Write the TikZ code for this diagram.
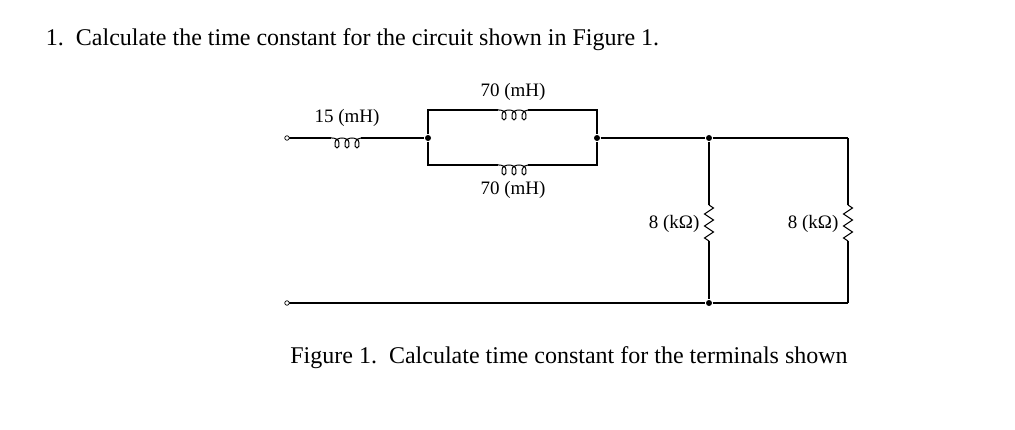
\documentclass[tikz,border=0pt]{standalone}
\usepackage{fontspec}
\setmainfont{Liberation Serif}
\usetikzlibrary{decorations.pathmorphing}
\begin{document}
\begin{tikzpicture}[x=1pt,y=-1pt,line width=1.2pt,
  res/.style={decorate,decoration={zigzag,segment length=12pt,amplitude=4.5pt,pre length=0pt,post length=0pt},line width=1pt},
  dot/.style={circle,fill,inner sep=0pt,minimum size=6pt},
  term/.style={circle,draw,fill=white,inner sep=0pt,minimum size=4.5pt,line width=0.7pt},
  lbl/.style={font=\fontsize{19}{22}\selectfont,inner sep=1pt},
  coilpath/.style={line width=1pt},
  pics/coil3/.style={code={
    \draw[coilpath] (-15,0) -- (-14,0)
      to[out=0,in=90] (-7,5) to[out=-90,in=0] (-9,10) to[out=180,in=-90] (-11,5) to[out=90,in=180] (-4,0)
      to[out=0,in=90] (3,5) to[out=-90,in=0] (1,10) to[out=180,in=-90] (-1,5) to[out=90,in=180] (6,0)
      to[out=0,in=90] (13,5) to[out=-90,in=0] (11,10) to[out=180,in=-90] (9,5) to[out=90,in=180] (15,0);
  }}]
\useasboundingbox (0,0) rectangle (1015,430);
\node[anchor=west,font=\fontsize{24}{28}\selectfont] (title) at (42,40) {1.\enspace Calculate the time constant for the circuit shown in Figure 1.};
\coordinate (a) at (287,138);
\node[dot] (n1) at (428,138) {};
\node[dot] (n2) at (597,138) {};
\node[dot] (n3) at (709,138) {};
\coordinate (c4) at (848,138);
\coordinate (b) at (287,303);
\node[dot] (n5) at (709,303) {};
\coordinate (c6) at (848,303);
\coordinate (i1a) at (331,138); \coordinate (i1b) at (361,138);
\coordinate (t1) at (428,110); \coordinate (t2) at (597,110);
\coordinate (b1) at (428,165); \coordinate (b2) at (597,165);
\coordinate (i2a) at (498,110); \coordinate (i2b) at (528,110);
\coordinate (i3a) at (498,165); \coordinate (i3b) at (528,165);
\coordinate (r1a) at (709,205); \coordinate (r1b) at (709,241);
\coordinate (r2a) at (848,205); \coordinate (r2b) at (848,241);
\pic at (346,138) {coil3}; \pic at (513,110) {coil3}; \pic at (513,165) {coil3};
\draw (a) -- (i1a); \draw (i1b) -- (n1);
\draw (n1) -- (t1) -- (i2a); \draw (i2b) -- (t2) -- (n2);
\draw (n1) -- (b1) -- (i3a); \draw (i3b) -- (b2) -- (n2);
\draw (n2) -- (n3) -- (c4);
\draw (n3) -- (r1a); \draw[res] (r1a) -- (r1b); \draw (r1b) -- (n5);
\draw (c4) -- (r2a); \draw[res] (r2a) -- (r2b); \draw (r2b) -- (c6);
\draw (b) -- (n5) -- (c6);
\node[term] (ta) at (a) {};
\node[term] (tb) at (b) {};
\node[lbl] (l1) at (347,118) {15 (mH)};
\node[lbl] (l2) at (513,92) {70 (mH)};
\node[lbl] (l3) at (513,190) {70 (mH)};
\node[lbl,anchor=east] (l4) at (701,224) {8 (kΩ)};
\node[lbl,anchor=east] (l5) at (840,224) {8 (kΩ)};
\node[font=\fontsize{24}{28}\selectfont] (cap) at (569,358) {Figure 1.\enspace Calculate time constant for the terminals shown};
\end{tikzpicture}
\end{document}
